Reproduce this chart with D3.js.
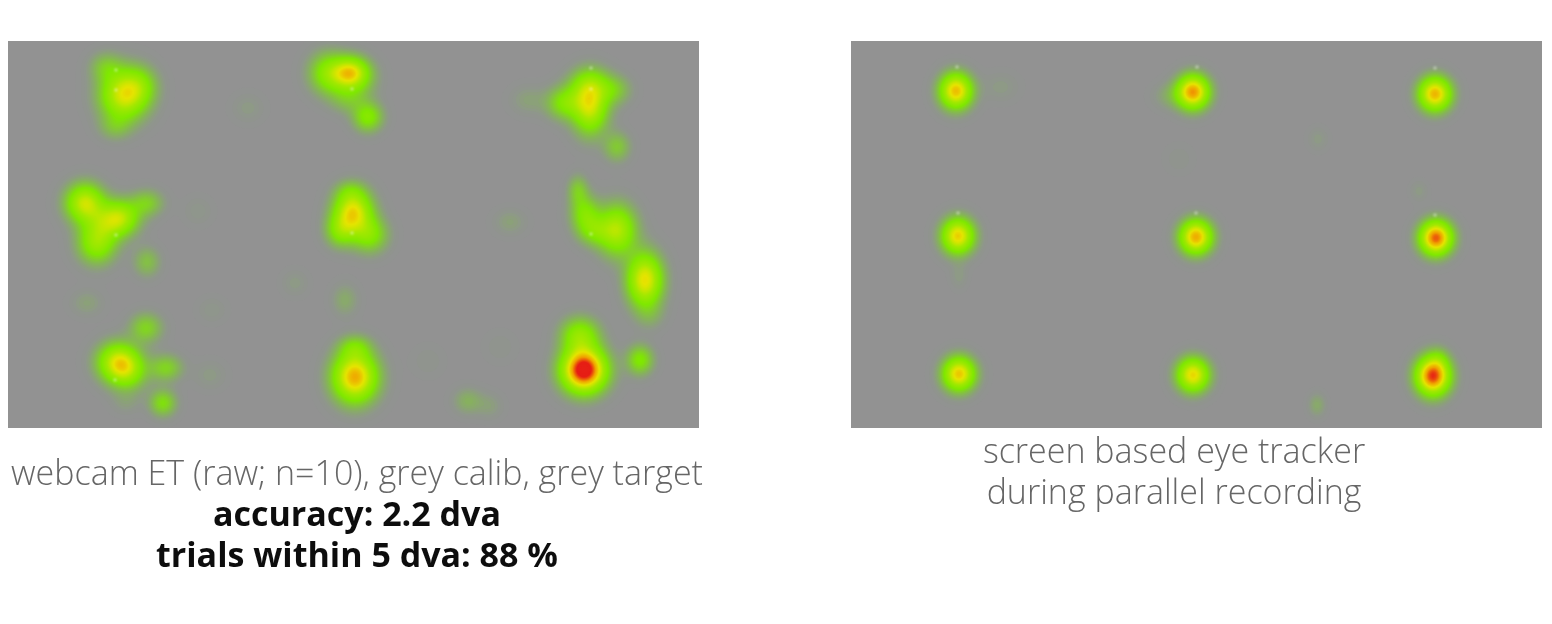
<!DOCTYPE html>
<html><head><meta charset="utf-8">
<style>html,body{margin:0;padding:0;background:#fff;overflow:hidden}svg{display:block}
text{font-family:"Open Sans","Noto Sans",sans-serif;text-anchor:middle}</style>
<script src="https://cdnjs.cloudflare.com/ajax/libs/d3/7.8.5/d3.min.js"></script></head>
<body><svg id="c" width="1552" height="624"></svg>
<script>
// Fixation hotspots: [x, y, strength, spreadX, spreadY], x/y in stimulus units (0-691, 0-387)
const webcamHotspots = [
 [116,54,.62,16,17],[132,44,.2,12,13],[98,26,.17,11,10],[107,86,.13,11,9],
 [343,31,.5,12,10],[320,32,.34,13,14],[344,40,.24,15,14],[360,76,.34,10,10],[340,60,.1,12,9],
 [582,66,.58,12,18],[556,62,.3,12,11],[582,44,.28,14,12],[607,49,.18,11,10],[609,106,.2,9,10],[520,59,.07,12,10],[240,67,.05,11,10],
 [77,162,.58,13,13],[112,177,.5,13,12],[139,162,.22,11,9],[89,202,.42,13,14],[95,182,.18,14,12],[139,221,.17,9,10],[79,262,.07,11,9],[190,170,.04,10,10],
 [345,171,.68,13,15],[362,194,.32,12,12],[332,190,.28,10,11],[337,259,.1,9,11],[287,242,.05,9,9],[342,150,.1,10,7],
 [609,189,.52,13,17],[577,172,.3,10,12],[585,190,.24,11,10],[570,149,.2,7,10],[502,181,.07,11,9],
 [637,239,.68,12,18],[642,274,.08,10,10],
 [110,321,.56,14,13],[120,331,.3,13,13],[138,287,.24,11,10],[158,327,.24,11,9],[155,362,.28,9,9],[204,269,.04,10,9],[202,334,.05,11,10],[118,362,.05,10,8],
 [347,336,.8,15,17],[347,306,.2,11,8],[420,320,.03,11,11],
 [576,329,1.1,15,15],[572,294,.38,13,12],[632,319,.32,9,10],[460,360,.12,10,9],[482,365,.06,9,9],[492,306,.03,11,11]
];
const trackerHotspots = [
 [105,50,.76,11,12],[342,51,.84,11,11.5],[584,53,.78,11,11.5],
 [107,195,.72,11,12],[345,196,.8,11,11.5],[585,197,.92,11,11.5],
 [108,333,.74,11,11.5],[342,334,.7,11,11.5],[582,335,.97,11.5,13],[588,318,.1,7,8],
 [466,364,.1,6,8],[467,98,.05,7,8],[318,55,.08,11,9],[150,46,.05,12,10],[328,118,.03,10,10],[108,235,.05,6,9],[568,150,.05,6,7]
];
const webcamTargets = [[108,29],[108,49],[344,48],[583,27],[583,48],[108,194],[344,192],[583,193],[107,339]];
const trackerTargets = [[106,26],[346,26],[584,27],[107,172],[345,172],[584,174]];
const captionLeft = ["webcam ET (raw; n=10), grey calib, grey target","accuracy: 2.2 dva","trials within 5 dva: 88 %"];
const captionRight = ["screen based eye tracker","during parallel recording"];
const colorStops = [0,.03,.12,.3,.48,.66,.82,.98];
const colorValues = ["#929292","#8f968c","#86b25c","#7fe800","#a4e800","#e6e400","#f0a000","#e61f16"];

const svg = d3.select("#c");
const defs = svg.append("defs");
defs.append("filter").attr("id","soft").attr("x","-5%").attr("y","-5%").attr("width","110%").attr("height","110%")
  .append("feGaussianBlur").attr("stdDeviation",1.2);
defs.append("filter").attr("id","txt").attr("x","-5%").attr("y","-20%").attr("width","110%").attr("height","140%")
  .append("feGaussianBlur").attr("stdDeviation",.35);

const W=691,H=387,cell=2;
const color = d3.scaleLinear().domain(colorStops).range(colorValues).clamp(true);
const thresholds = d3.range(0.006,1.15,0.012);

function panel(left,hotspots,targets){
  const top=41;
  const x=d3.scaleLinear().domain([0,W]).range([left,left+W]);
  const y=d3.scaleLinear().domain([0,H]).range([top,top+H]);
  const clipId="clip"+left;
  defs.append("clipPath").attr("id",clipId).append("rect").attr("x",x(0)).attr("y",y(0)).attr("width",W).attr("height",H);
  const g=svg.append("g").attr("clip-path",`url(#${clipId})`);
  g.append("rect").attr("x",x(0)).attr("y",y(0)).attr("width",W).attr("height",H).attr("fill",color(0));
  const nx=Math.ceil(W/cell)+1, ny=Math.ceil(H/cell)+1, grid=new Float64Array(nx*ny);
  for(const [hx,hy,a,sx,sy] of hotspots){
    for(let j=0;j<ny;j++)for(let i=0;i<nx;i++){
      const dx=(i*cell-hx)/sx, dy=(j*cell-hy)/sy, q=(dx*dx+dy*dy)/2;
      if(q<12) grid[j*nx+i]+=a*Math.exp(-q);
    }
  }
  const contours=d3.contours().size([nx,ny]).thresholds(thresholds)(grid);
  const path=d3.geoPath(d3.geoTransform({point(px,py){this.stream.point(x(px*cell-cell/2),y(py*cell-cell/2));}}));
  g.append("g").selectAll("path").data(contours).join("path")
    .attr("d",path).attr("fill",d=>color(d.value));
  g.append("g").attr("filter","url(#soft)").selectAll("circle").data(targets).join("circle")
    .attr("cx",d=>x(d[0])).attr("cy",d=>y(d[1])).attr("r",1.8).attr("fill","#fff").attr("opacity",.4);
}
panel(8,webcamHotspots,webcamTargets);
panel(851,trackerHotspots,trackerTargets);

const t=svg.append("g").attr("filter","url(#txt)");
const capY=d3.scaleOrdinal().domain(captionLeft.concat(captionRight)).range([485,526,567,463,504]);
t.selectAll("text.l").data(captionLeft).join("text").attr("class","l")
  .attr("x",357).attr("y",d=>capY(d)).text(d=>d)
  .attr("font-size",34).attr("font-weight",(d,i)=>i?700:300).attr("fill",(d,i)=>i?"#111":"#666");
t.selectAll("text.r").data(captionRight).join("text").attr("class","r")
  .attr("x",1174).attr("y",d=>capY(d)).text(d=>d)
  .attr("font-size",34).attr("font-weight",300).attr("fill","#666");
</script></body></html>
